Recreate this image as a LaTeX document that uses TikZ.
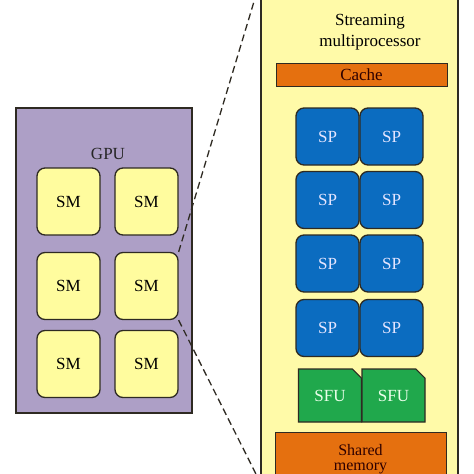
\documentclass[tikz,border=0pt]{standalone}
\usepackage{fontspec}
\setmainfont{Liberation Serif}
\usetikzlibrary{shapes.misc}

\definecolor{gpupurple}{HTML}{AD9FC6}
\definecolor{smyellow}{HTML}{FFFC9E}
\definecolor{boxyellow}{HTML}{FFFAA8}
\definecolor{cacheorange}{HTML}{E5700F}
\definecolor{spblue}{HTML}{0B6CC0}
\definecolor{sfugreen}{HTML}{20A84C}
\definecolor{outline}{HTML}{2E2A22}

\tikzstyle{smblock} = [
        draw=outline,
        fill=smyellow,
        rectangle,
        rounded corners=8pt,
        line width=1.3pt,
        minimum width=63pt,
        minimum height=67pt
    ]
\tikzstyle{spblock} = [
        draw=outline,
        fill=spblue,
        text=blue!10,
        rectangle,
        rounded corners=8pt,
        line width=1.3pt,
        minimum width=63pt,
        minimum height=57pt
    ]
\tikzstyle{sfublock} = [
        draw=outline,
        fill=sfugreen,
        text=green!8,
        chamfered rectangle,
        chamfered rectangle corners=north east,
        chamfered rectangle xsep=6pt,
        line width=1.1pt,
        minimum width=63pt,
        minimum height=53pt
    ]
\tikzstyle{memblock} = [
        draw=outline,
        fill=cacheorange,
        rectangle,
        line width=1pt
    ]

\begin{document}
\begin{tikzpicture}[x=1pt, y=-1pt, font=\fontsize{17}{21}\selectfont]
        \useasboundingbox (0,0) rectangle (474,474);
        \clip (0,0) rectangle (474,474);
        % GPU side
        \node(gpu) [draw=outline, fill=gpupurple, line width=1.2pt, minimum width=176pt,
            minimum height=305pt] at (104,260.5) {};
        \node(gputxt) [text=black!85] at (108,154) {GPU};
        \node(sm11) [smblock] at (68.5,201.5) {SM};
        \node(sm12) [smblock] at (146.5,201.5) {SM};
        \node(sm21) [smblock] at (68.5,286) {SM};
        \node(sm22) [smblock] at (146.5,286) {SM};
        \node(sm31) [smblock] at (68.5,364) {SM};
        \node(sm32) [smblock] at (146.5,364) {SM};
        % streaming multiprocessor
        \node(smbox) [draw=outline, fill=boxyellow, line width=1.2pt, minimum width=197pt,
            minimum height=540pt] at (359.5,237) {};
        \node(smtxt) [align=center] at (370,32) {Streaming\\multiprocessor};
        \node(cache) [memblock, minimum width=171pt, minimum height=23pt,
            text=black!70!red!60!black] at (361.5,74.5) {Cache};
        \foreach \row/\y in {1/136.5, 2/200, 3/263.5, 4/328} {
            \node(sp\row a) [spblock] at (327.5,\y) {SP};
            \node(sp\row b) [spblock] at (391.5,\y) {SP};
        }
        \node(sfua) [sfublock] at (330,395.5) {SFU};
        \node(sfub) [sfublock] at (393.5,395.5) {SFU};
        \node(shmem) [memblock, minimum width=171pt, minimum height=80pt,
            anchor=north] at (360.5,432) {};
        \node(shtxt) [align=center, text=black!70!red!60!black, anchor=north,
            inner sep=0pt, yshift=-12pt, font=\fontsize{16}{15}\selectfont] at (shmem.north)
            {Shared\\memory};
        % zoom lines
        \coordinate(topend) at (262,-25);
        \coordinate(botend) at (263,488);
        \draw[dash pattern=on 7pt off 4pt, line width=1.3pt, outline] (sm22.north east) -- (topend);
        \draw[dash pattern=on 7pt off 4pt, line width=1.3pt, outline] (sm22.south east) -- (botend);
    \end{tikzpicture}
\end{document}
